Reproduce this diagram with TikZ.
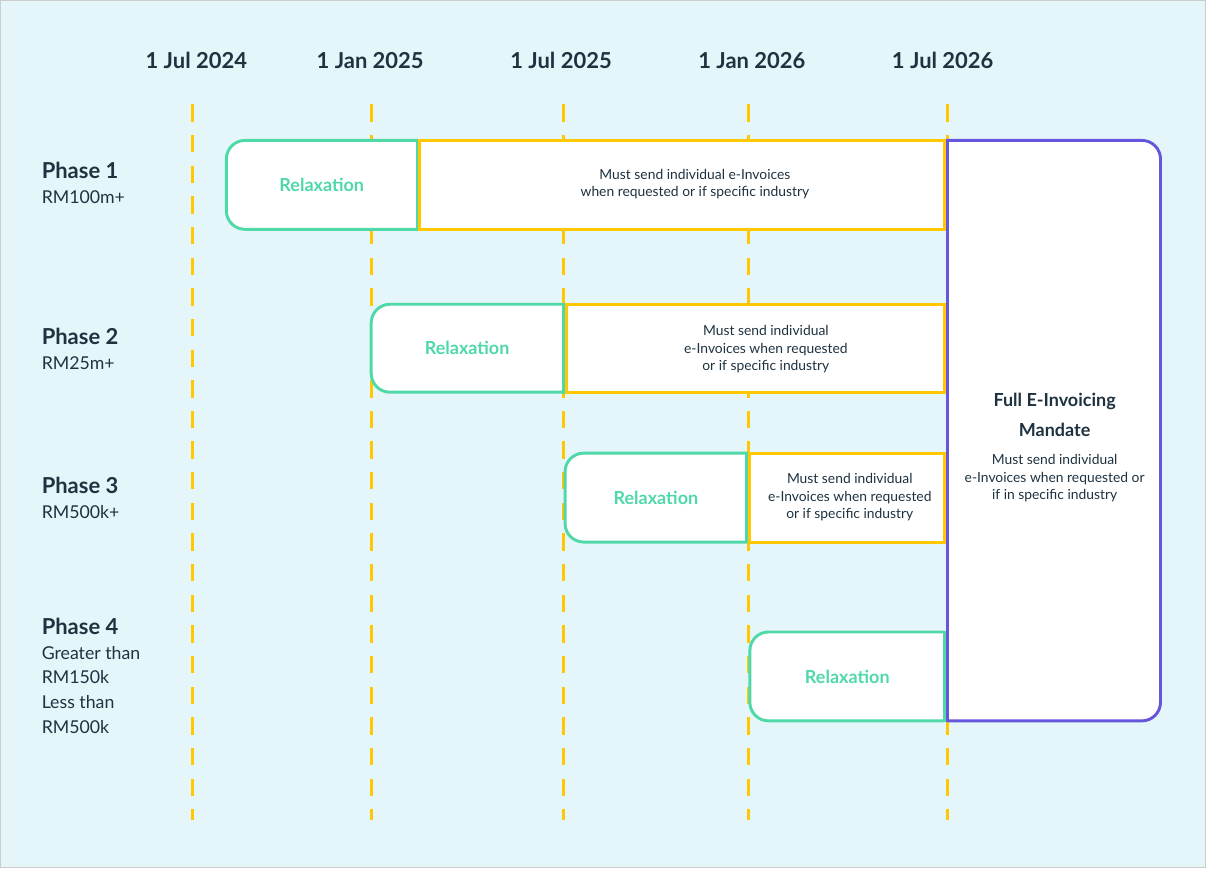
\documentclass[tikz,border=0pt]{standalone}
\usepackage{fontspec}
\setmainfont{Lato}
\definecolor{bgc}{HTML}{E5F6FA}
\definecolor{grn}{HTML}{4FD8A8}
\definecolor{ylw}{HTML}{FFC800}
\definecolor{ppl}{HTML}{6655DD}
\definecolor{ink}{HTML}{1E3240}
\tikzset{
  guide/.style={ylw,line width=2.2pt,dash pattern=on 13pt off 10pt},
  gbox/.style={grn,line width=2.2pt,rounded corners=14pt},
  ybox/.style={ylw,line width=2.2pt,fill=white},
  datel/.style={text=ink,font=\fontsize{16.5}{18}\selectfont\bfseries},
  phase/.style={text=ink,anchor=north west,align=left,font=\fontsize{13.3}{18.5}\selectfont,inner sep=0pt},
  relax/.style={text=grn,font=\fontsize{13.5}{15}\selectfont\bfseries},
  body/.style={text=ink,align=center,font=\fontsize{10.4}{13}\selectfont}
}
\begin{document}
\begin{tikzpicture}[x=0.75pt,y=-0.75pt]
\fill[bgc,draw=black!20,line width=0.8pt] (0,0) rectangle (1206,868);
\useasboundingbox (0,0) rectangle (1206,868);
% dates
\foreach \n/\x/\t in {a/196/1 Jul 2024,b/370/1 Jan 2025,c/561/1 Jul 2025,d/752/1 Jan 2026,e/943/1 Jul 2026}
  \node[datel] (d\n) at (\x,60) {\t};
\foreach \x in {192,371,563,749,948}
  \draw[guide] (\x,104) -- (\x,820);
% phase labels
\node[phase] (p1) at (41,162) {{\bfseries\fontsize{16.5}{18}\selectfont Phase 1}\\RM100m+};
\node[phase] (p2) at (41,328) {{\bfseries\fontsize{16.5}{18}\selectfont Phase 2}\\RM25m+};
\node[phase] (p3) at (41,477) {{\bfseries\fontsize{16.5}{18}\selectfont Phase 3}\\RM500k+};
\node[phase] (p4) at (41,618) {{\bfseries\fontsize{16.5}{18}\selectfont Phase 4}\\Greater than\\RM150k\\Less than\\RM500k};
% green boxes (left-rounded)
\foreach \xa/\xb/\ya/\yb/\n in {226/417/140/229/g1,371/563/304/392/g2,565/747/453/542/g3,750/945/632/721/g4}{
  \fill[white] (\xb,\ya) [rounded corners=14pt] -- (\xa,\ya) -- (\xa,\yb) -- (\xb,\yb);
  \draw[gbox] (\xb,\ya) -- (\xa,\ya) -- (\xa,\yb) -- (\xb,\yb);
  \draw[grn,line width=2.2pt] (\xb,\ya-1.4) -- (\xb,\yb+1.4);
  \node[relax] (\n) at ({(\xa+\xb)/2},{(\ya+\yb)/2}) {Relaxation};
}
% yellow boxes
\draw[ybox] (419,140) rectangle (945,229);
\node[body] (y1) at (695,184) {Must send individual e-Invoices\\when requested or if specific industry};
\draw[ybox] (566,304) rectangle (945,392);
\node[body] (y2) at (766,349) {Must send individual\\e-Invoices when requested\\or if specific industry};
\draw[ybox] (750,453) rectangle (945,542);
\node[body] (y3) at (850,497) {Must send individual\\e-Invoices when requested\\or if specific industry};
% purple box
\fill[white] (948,140) [rounded corners=14pt] -- (1161,140) -- (1161,721) -- (948,721);
\draw[ppl,line width=2.2pt,rounded corners=14pt] (948,140) -- (1161,140) -- (1161,721) -- (948,721);
\draw[ppl,line width=2.2pt] (948,138.6) -- (948,722.4);
\node[text=ink,align=center,font=\fontsize{13.5}{22.5}\selectfont\bfseries] (m1) at (1055,415) {Full E-Invoicing\\Mandate};
\node[body] (m2) at (1055,478) {Must send individual\\e-Invoices when requested or\\if in specific industry};
\end{tikzpicture}
\end{document}
